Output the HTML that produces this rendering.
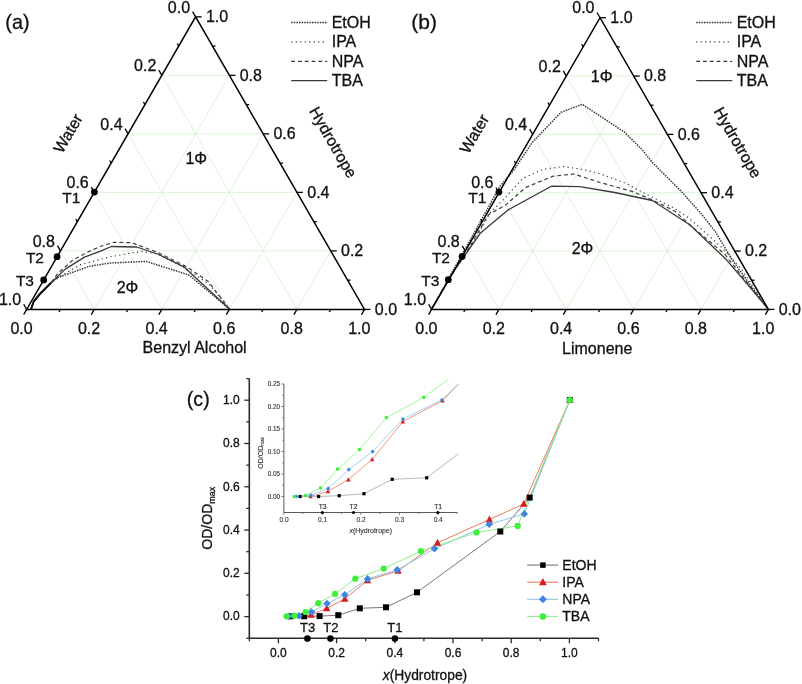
<!DOCTYPE html><html><head><meta charset="utf-8"><style>html,body{margin:0;padding:0;background:#fff;}svg{display:block;will-change:transform;}</style></head><body><svg width="802" height="684" viewBox="0 0 802 684" font-family='"Liberation Sans", sans-serif'>
<rect width="802" height="684" fill="#fff"/>
<line x1="60.48" y1="250.89" x2="330.72" y2="250.89" stroke="#d3f2cf" stroke-width="0.85" />
<line x1="94.26" y1="309.4" x2="229.38" y2="75.37" stroke="#d3f2cf" stroke-width="0.85" />
<line x1="296.94" y1="309.4" x2="161.82" y2="75.37" stroke="#d3f2cf" stroke-width="0.85" />
<line x1="94.26" y1="192.38" x2="296.94" y2="192.38" stroke="#d3f2cf" stroke-width="0.85" />
<line x1="161.82" y1="309.4" x2="263.16" y2="133.87" stroke="#d3f2cf" stroke-width="0.85" />
<line x1="229.38" y1="309.4" x2="128.04" y2="133.87" stroke="#d3f2cf" stroke-width="0.85" />
<line x1="128.04" y1="133.87" x2="263.16" y2="133.87" stroke="#d3f2cf" stroke-width="0.85" />
<line x1="229.38" y1="309.4" x2="296.94" y2="192.38" stroke="#d3f2cf" stroke-width="0.85" />
<line x1="161.82" y1="309.4" x2="94.26" y2="192.38" stroke="#d3f2cf" stroke-width="0.85" />
<line x1="161.82" y1="75.37" x2="229.38" y2="75.37" stroke="#d3f2cf" stroke-width="0.85" />
<line x1="296.94" y1="309.4" x2="330.72" y2="250.89" stroke="#d3f2cf" stroke-width="0.85" />
<line x1="94.26" y1="309.4" x2="60.48" y2="250.89" stroke="#d3f2cf" stroke-width="0.85" />
<polyline points="31.1,309 33.7,301.5 40.3,293.5 46.1,287.7 51,282.8 65,269.4 84.4,257.1 100,251.4 111.3,246.5 136.6,247 157.6,254 183.8,266.8 229.4,309" fill="none" stroke="#3a3a3a" stroke-width="1.3" stroke-linejoin="round" />
<polyline points="31.1,309 33.7,301.5 40.3,293.5 46.1,287.7 51,282.8 57.5,273.9 72.4,260.4 87.4,252.2 100,246.5 114,242.3 131.4,242.7 157.6,252.3 187.3,267.1 208.2,281.5 229.4,309" fill="none" stroke="#3a3a3a" stroke-width="1.2" stroke-linejoin="round" stroke-dasharray="3.8,3"/>
<polyline points="31.1,309 33.7,301.5 40.3,293.5 46.1,287.7 51,282.8 61.2,275.8 79.9,264.9 110,256.8 141.9,251.3 157.6,254 185.5,268 210,285 229.4,309" fill="none" stroke="#3a3a3a" stroke-width="1.2" stroke-linejoin="round" stroke-dasharray="1.2,3.3"/>
<polyline points="31.1,309 33.7,301.5 40.3,293.5 46.1,287.7 51,282.8 57.5,277.6 72.4,272.4 88.9,266.4 110,263 146.2,261.4 189,275 229.4,309" fill="none" stroke="#333" stroke-width="1.45" stroke-linejoin="round" stroke-dasharray="1.5,1.1"/>
<polyline points="31.1,309 33.7,301.5 40.3,293.5 46.1,287.7 51,282.8" fill="none" stroke="#111" stroke-width="2" stroke-linejoin="round" />
<line x1="26.7" y1="309.4" x2="23.7" y2="314.6" stroke="#000" stroke-width="1.3" />
<line x1="364.5" y1="309.4" x2="370.5" y2="309.4" stroke="#000" stroke-width="1.3" />
<line x1="195.6" y1="16.86" x2="192.6" y2="11.66" stroke="#000" stroke-width="1.3" />
<line x1="60.48" y1="309.4" x2="58.98" y2="312" stroke="#000" stroke-width="1.3" />
<line x1="347.61" y1="280.15" x2="350.61" y2="280.15" stroke="#000" stroke-width="1.3" />
<line x1="178.71" y1="46.11" x2="177.21" y2="43.51" stroke="#000" stroke-width="1.3" />
<line x1="94.26" y1="309.4" x2="91.26" y2="314.6" stroke="#000" stroke-width="1.3" />
<line x1="330.72" y1="250.89" x2="336.72" y2="250.89" stroke="#000" stroke-width="1.3" />
<line x1="161.82" y1="75.37" x2="158.82" y2="70.17" stroke="#000" stroke-width="1.3" />
<line x1="128.04" y1="309.4" x2="126.54" y2="312" stroke="#000" stroke-width="1.3" />
<line x1="313.83" y1="221.64" x2="316.83" y2="221.64" stroke="#000" stroke-width="1.3" />
<line x1="144.93" y1="104.62" x2="143.43" y2="102.02" stroke="#000" stroke-width="1.3" />
<line x1="161.82" y1="309.4" x2="158.82" y2="314.6" stroke="#000" stroke-width="1.3" />
<line x1="296.94" y1="192.38" x2="302.94" y2="192.38" stroke="#000" stroke-width="1.3" />
<line x1="128.04" y1="133.87" x2="125.04" y2="128.68" stroke="#000" stroke-width="1.3" />
<line x1="195.6" y1="309.4" x2="194.1" y2="312" stroke="#000" stroke-width="1.3" />
<line x1="280.05" y1="163.13" x2="283.05" y2="163.13" stroke="#000" stroke-width="1.3" />
<line x1="111.15" y1="163.13" x2="109.65" y2="160.53" stroke="#000" stroke-width="1.3" />
<line x1="229.38" y1="309.4" x2="226.38" y2="314.6" stroke="#000" stroke-width="1.3" />
<line x1="263.16" y1="133.87" x2="269.16" y2="133.87" stroke="#000" stroke-width="1.3" />
<line x1="94.26" y1="192.38" x2="91.26" y2="187.19" stroke="#000" stroke-width="1.3" />
<line x1="263.16" y1="309.4" x2="261.66" y2="312" stroke="#000" stroke-width="1.3" />
<line x1="246.27" y1="104.62" x2="249.27" y2="104.62" stroke="#000" stroke-width="1.3" />
<line x1="77.37" y1="221.64" x2="75.87" y2="219.04" stroke="#000" stroke-width="1.3" />
<line x1="296.94" y1="309.4" x2="293.94" y2="314.6" stroke="#000" stroke-width="1.3" />
<line x1="229.38" y1="75.37" x2="235.38" y2="75.37" stroke="#000" stroke-width="1.3" />
<line x1="60.48" y1="250.89" x2="57.48" y2="245.7" stroke="#000" stroke-width="1.3" />
<line x1="330.72" y1="309.4" x2="329.22" y2="312" stroke="#000" stroke-width="1.3" />
<line x1="212.49" y1="46.11" x2="215.49" y2="46.11" stroke="#000" stroke-width="1.3" />
<line x1="43.59" y1="280.15" x2="42.09" y2="277.55" stroke="#000" stroke-width="1.3" />
<line x1="364.5" y1="309.4" x2="361.5" y2="314.6" stroke="#000" stroke-width="1.3" />
<line x1="195.6" y1="16.86" x2="201.6" y2="16.86" stroke="#000" stroke-width="1.3" />
<line x1="26.7" y1="309.4" x2="23.7" y2="304.2" stroke="#000" stroke-width="1.3" />
<polygon points="26.7,309.4 364.5,309.4 195.6,16.86" fill="none" stroke="#000" stroke-width="1.5" stroke-linejoin="miter"/>
<text x="21.5" y="333.5" font-size="16" text-anchor="middle" fill="#111"  stroke="#111" stroke-width="0.3">0.0</text>
<text x="374.8" y="314.7" font-size="16" text-anchor="start" fill="#111"  stroke="#111" stroke-width="0.3">0.0</text>
<text x="190.1" y="12.56" font-size="16" text-anchor="end" fill="#111"  stroke="#111" stroke-width="0.3">0.0</text>
<text x="89.06" y="333.5" font-size="16" text-anchor="middle" fill="#111"  stroke="#111" stroke-width="0.3">0.2</text>
<text x="341.02" y="256.19" font-size="16" text-anchor="start" fill="#111"  stroke="#111" stroke-width="0.3">0.2</text>
<text x="156.32" y="71.07" font-size="16" text-anchor="end" fill="#111"  stroke="#111" stroke-width="0.3">0.2</text>
<text x="156.62" y="333.5" font-size="16" text-anchor="middle" fill="#111"  stroke="#111" stroke-width="0.3">0.4</text>
<text x="307.24" y="197.68" font-size="16" text-anchor="start" fill="#111"  stroke="#111" stroke-width="0.3">0.4</text>
<text x="122.54" y="129.57" font-size="16" text-anchor="end" fill="#111"  stroke="#111" stroke-width="0.3">0.4</text>
<text x="224.18" y="333.5" font-size="16" text-anchor="middle" fill="#111"  stroke="#111" stroke-width="0.3">0.6</text>
<text x="273.46" y="139.17" font-size="16" text-anchor="start" fill="#111"  stroke="#111" stroke-width="0.3">0.6</text>
<text x="88.76" y="188.08" font-size="16" text-anchor="end" fill="#111"  stroke="#111" stroke-width="0.3">0.6</text>
<text x="291.74" y="333.5" font-size="16" text-anchor="middle" fill="#111"  stroke="#111" stroke-width="0.3">0.8</text>
<text x="239.68" y="80.67" font-size="16" text-anchor="start" fill="#111"  stroke="#111" stroke-width="0.3">0.8</text>
<text x="54.98" y="246.59" font-size="16" text-anchor="end" fill="#111"  stroke="#111" stroke-width="0.3">0.8</text>
<text x="359.3" y="333.5" font-size="16" text-anchor="middle" fill="#111"  stroke="#111" stroke-width="0.3">1.0</text>
<text x="205.9" y="22.16" font-size="16" text-anchor="start" fill="#111"  stroke="#111" stroke-width="0.3">1.0</text>
<text x="21.2" y="305.1" font-size="16" text-anchor="end" fill="#111"  stroke="#111" stroke-width="0.3">1.0</text>
<circle cx="94.4" cy="192.1" r="3.4" fill="#000"/>
<circle cx="57.1" cy="256.7" r="3.4" fill="#000"/>
<circle cx="43.7" cy="279.9" r="3.4" fill="#000"/>
<text x="80.4" y="202.9" font-size="15.5" text-anchor="end" fill="#111"  stroke="#111" stroke-width="0.3">T1</text>
<text x="44" y="262.7" font-size="15.5" text-anchor="end" fill="#111"  stroke="#111" stroke-width="0.3">T2</text>
<text x="34" y="285.6" font-size="15.5" text-anchor="end" fill="#111"  stroke="#111" stroke-width="0.3">T3</text>
<text x="127.5" y="293" font-size="16" text-anchor="middle" fill="#111"  stroke="#111" stroke-width="0.3">2Φ</text>
<text x="196.3" y="163.5" font-size="16" text-anchor="middle" fill="#111"  stroke="#111" stroke-width="0.3">1Φ</text>
<line x1="465.28" y1="251.06" x2="734.72" y2="251.06" stroke="#d3f2cf" stroke-width="0.85" />
<line x1="498.96" y1="309.4" x2="633.68" y2="76.06" stroke="#d3f2cf" stroke-width="0.85" />
<line x1="701.04" y1="309.4" x2="566.32" y2="76.06" stroke="#d3f2cf" stroke-width="0.85" />
<line x1="498.96" y1="192.73" x2="701.04" y2="192.73" stroke="#d3f2cf" stroke-width="0.85" />
<line x1="566.32" y1="309.4" x2="667.36" y2="134.39" stroke="#d3f2cf" stroke-width="0.85" />
<line x1="633.68" y1="309.4" x2="532.64" y2="134.39" stroke="#d3f2cf" stroke-width="0.85" />
<line x1="532.64" y1="134.39" x2="667.36" y2="134.39" stroke="#d3f2cf" stroke-width="0.85" />
<line x1="633.68" y1="309.4" x2="701.04" y2="192.73" stroke="#d3f2cf" stroke-width="0.85" />
<line x1="566.32" y1="309.4" x2="498.96" y2="192.73" stroke="#d3f2cf" stroke-width="0.85" />
<line x1="566.32" y1="76.06" x2="633.68" y2="76.06" stroke="#d3f2cf" stroke-width="0.85" />
<line x1="701.04" y1="309.4" x2="734.72" y2="251.06" stroke="#d3f2cf" stroke-width="0.85" />
<line x1="498.96" y1="309.4" x2="465.28" y2="251.06" stroke="#d3f2cf" stroke-width="0.85" />
<polyline points="431.6,309 447.5,282 455,269.5 464,256.5 465.3,254.7 480.1,233.6 490,224.9 508,209.9 551.4,186.2 579.8,186.7 614.7,192.5 652.4,200.5 689.8,224.8 726.5,259.8 749.4,286.5 768.4,309.4" fill="none" stroke="#3a3a3a" stroke-width="1.3" stroke-linejoin="round" />
<polyline points="431.6,309 447.5,282 455,269.5 464,256.5 488.6,214.5 505,205.4 525.9,187.4 552.9,176.2 573.8,174 600,182.5 631.2,191.1 652.4,199.9 674.8,211.1 688.5,223.7 724.6,254.1 768.4,309.4" fill="none" stroke="#3a3a3a" stroke-width="1.2" stroke-linejoin="round" stroke-dasharray="3.8,3"/>
<polyline points="431.6,309 447.5,282 455,269.5 464,256.5 475,240 490,212.9 505,197.9 522.9,178.4 542.4,169.5 563.4,166.5 582.8,169.5 600,173.7 625,183 652.4,197.4 674.8,208.6 690,219 720.8,246.5 741.7,269.4 768.4,309.4" fill="none" stroke="#3a3a3a" stroke-width="1.2" stroke-linejoin="round" stroke-dasharray="1.2,3.3"/>
<polyline points="431.6,309 500.2,186 514,170 532.4,142.2 561.1,112.3 582.3,104.3 624.7,132.3 642.4,150 652.4,162.5 681,191.1 700,212.3 715.1,231.3 732.2,259.8 750,284.5 768.4,309.4" fill="none" stroke="#333" stroke-width="1.45" stroke-linejoin="round" stroke-dasharray="1.5,1.1"/>
<line x1="431.6" y1="309.4" x2="428.6" y2="314.6" stroke="#000" stroke-width="1.3" />
<line x1="768.4" y1="309.4" x2="774.4" y2="309.4" stroke="#000" stroke-width="1.3" />
<line x1="600" y1="17.72" x2="597" y2="12.53" stroke="#000" stroke-width="1.3" />
<line x1="465.28" y1="309.4" x2="463.78" y2="312" stroke="#000" stroke-width="1.3" />
<line x1="751.56" y1="280.23" x2="754.56" y2="280.23" stroke="#000" stroke-width="1.3" />
<line x1="583.16" y1="46.89" x2="581.66" y2="44.29" stroke="#000" stroke-width="1.3" />
<line x1="498.96" y1="309.4" x2="495.96" y2="314.6" stroke="#000" stroke-width="1.3" />
<line x1="734.72" y1="251.06" x2="740.72" y2="251.06" stroke="#000" stroke-width="1.3" />
<line x1="566.32" y1="76.06" x2="563.32" y2="70.86" stroke="#000" stroke-width="1.3" />
<line x1="532.64" y1="309.4" x2="531.14" y2="312" stroke="#000" stroke-width="1.3" />
<line x1="717.88" y1="221.9" x2="720.88" y2="221.9" stroke="#000" stroke-width="1.3" />
<line x1="549.48" y1="105.23" x2="547.98" y2="102.63" stroke="#000" stroke-width="1.3" />
<line x1="566.32" y1="309.4" x2="563.32" y2="314.6" stroke="#000" stroke-width="1.3" />
<line x1="701.04" y1="192.73" x2="707.04" y2="192.73" stroke="#000" stroke-width="1.3" />
<line x1="532.64" y1="134.39" x2="529.64" y2="129.2" stroke="#000" stroke-width="1.3" />
<line x1="600" y1="309.4" x2="598.5" y2="312" stroke="#000" stroke-width="1.3" />
<line x1="684.2" y1="163.56" x2="687.2" y2="163.56" stroke="#000" stroke-width="1.3" />
<line x1="515.8" y1="163.56" x2="514.3" y2="160.96" stroke="#000" stroke-width="1.3" />
<line x1="633.68" y1="309.4" x2="630.68" y2="314.6" stroke="#000" stroke-width="1.3" />
<line x1="667.36" y1="134.39" x2="673.36" y2="134.39" stroke="#000" stroke-width="1.3" />
<line x1="498.96" y1="192.73" x2="495.96" y2="187.53" stroke="#000" stroke-width="1.3" />
<line x1="667.36" y1="309.4" x2="665.86" y2="312" stroke="#000" stroke-width="1.3" />
<line x1="650.52" y1="105.23" x2="653.52" y2="105.23" stroke="#000" stroke-width="1.3" />
<line x1="482.12" y1="221.9" x2="480.62" y2="219.3" stroke="#000" stroke-width="1.3" />
<line x1="701.04" y1="309.4" x2="698.04" y2="314.6" stroke="#000" stroke-width="1.3" />
<line x1="633.68" y1="76.06" x2="639.68" y2="76.06" stroke="#000" stroke-width="1.3" />
<line x1="465.28" y1="251.06" x2="462.28" y2="245.87" stroke="#000" stroke-width="1.3" />
<line x1="734.72" y1="309.4" x2="733.22" y2="312" stroke="#000" stroke-width="1.3" />
<line x1="616.84" y1="46.89" x2="619.84" y2="46.89" stroke="#000" stroke-width="1.3" />
<line x1="448.44" y1="280.23" x2="446.94" y2="277.63" stroke="#000" stroke-width="1.3" />
<line x1="768.4" y1="309.4" x2="765.4" y2="314.6" stroke="#000" stroke-width="1.3" />
<line x1="600" y1="17.72" x2="606" y2="17.72" stroke="#000" stroke-width="1.3" />
<line x1="431.6" y1="309.4" x2="428.6" y2="304.2" stroke="#000" stroke-width="1.3" />
<polygon points="431.6,309.4 768.4,309.4 600,17.72" fill="none" stroke="#000" stroke-width="1.5" stroke-linejoin="miter"/>
<text x="426.4" y="333.5" font-size="16" text-anchor="middle" fill="#111"  stroke="#111" stroke-width="0.3">0.0</text>
<text x="778.7" y="314.7" font-size="16" text-anchor="start" fill="#111"  stroke="#111" stroke-width="0.3">0.0</text>
<text x="594.5" y="13.42" font-size="16" text-anchor="end" fill="#111"  stroke="#111" stroke-width="0.3">0.0</text>
<text x="493.76" y="333.5" font-size="16" text-anchor="middle" fill="#111"  stroke="#111" stroke-width="0.3">0.2</text>
<text x="745.02" y="256.36" font-size="16" text-anchor="start" fill="#111"  stroke="#111" stroke-width="0.3">0.2</text>
<text x="560.82" y="71.76" font-size="16" text-anchor="end" fill="#111"  stroke="#111" stroke-width="0.3">0.2</text>
<text x="561.12" y="333.5" font-size="16" text-anchor="middle" fill="#111"  stroke="#111" stroke-width="0.3">0.4</text>
<text x="711.34" y="198.03" font-size="16" text-anchor="start" fill="#111"  stroke="#111" stroke-width="0.3">0.4</text>
<text x="527.14" y="130.09" font-size="16" text-anchor="end" fill="#111"  stroke="#111" stroke-width="0.3">0.4</text>
<text x="628.48" y="333.5" font-size="16" text-anchor="middle" fill="#111"  stroke="#111" stroke-width="0.3">0.6</text>
<text x="677.66" y="139.69" font-size="16" text-anchor="start" fill="#111"  stroke="#111" stroke-width="0.3">0.6</text>
<text x="493.46" y="188.43" font-size="16" text-anchor="end" fill="#111"  stroke="#111" stroke-width="0.3">0.6</text>
<text x="695.84" y="333.5" font-size="16" text-anchor="middle" fill="#111"  stroke="#111" stroke-width="0.3">0.8</text>
<text x="643.98" y="81.36" font-size="16" text-anchor="start" fill="#111"  stroke="#111" stroke-width="0.3">0.8</text>
<text x="459.78" y="246.76" font-size="16" text-anchor="end" fill="#111"  stroke="#111" stroke-width="0.3">0.8</text>
<text x="763.2" y="333.5" font-size="16" text-anchor="middle" fill="#111"  stroke="#111" stroke-width="0.3">1.0</text>
<text x="610.3" y="23.02" font-size="16" text-anchor="start" fill="#111"  stroke="#111" stroke-width="0.3">1.0</text>
<text x="426.1" y="305.1" font-size="16" text-anchor="end" fill="#111"  stroke="#111" stroke-width="0.3">1.0</text>
<circle cx="498.9" cy="192.1" r="3.4" fill="#000"/>
<circle cx="462.1" cy="256.4" r="3.4" fill="#000"/>
<circle cx="448.3" cy="279.7" r="3.4" fill="#000"/>
<text x="486.4" y="202.8" font-size="15.5" text-anchor="end" fill="#111"  stroke="#111" stroke-width="0.3">T1</text>
<text x="450" y="263.2" font-size="15.5" text-anchor="end" fill="#111"  stroke="#111" stroke-width="0.3">T2</text>
<text x="439.4" y="285.5" font-size="15.5" text-anchor="end" fill="#111"  stroke="#111" stroke-width="0.3">T3</text>
<text x="582.5" y="254.3" font-size="16" text-anchor="middle" fill="#111"  stroke="#111" stroke-width="0.3">2Φ</text>
<text x="601.7" y="82.4" font-size="16" text-anchor="middle" fill="#111"  stroke="#111" stroke-width="0.3">1Φ</text>
<text x="5.3" y="29" font-size="21" text-anchor="start" fill="#111" textLength="24.3" lengthAdjust="spacingAndGlyphs" stroke="#111" stroke-width="0.3">(a)</text>
<text x="411.3" y="29" font-size="21" text-anchor="start" fill="#111"  stroke="#111" stroke-width="0.3">(b)</text>
<text x="194.6" y="353" font-size="16" text-anchor="middle" fill="#111"  stroke="#111" stroke-width="0.3">Benzyl Alcohol</text>
<text x="597.2" y="353.5" font-size="16" text-anchor="middle" fill="#111"  stroke="#111" stroke-width="0.3">Limonene</text>
<text x="68" y="133.3" font-size="16" text-anchor="middle" dominant-baseline="central" fill="#111" stroke="#111" stroke-width="0.3" transform="rotate(-60 68 133.3)">Water</text>
<text x="333.2" y="142.3" font-size="16" text-anchor="middle" dominant-baseline="central" fill="#111" stroke="#111" stroke-width="0.3" transform="rotate(60 333.2 142.3)">Hydrotrope</text>
<text x="474.3" y="133.8" font-size="16" text-anchor="middle" dominant-baseline="central" fill="#111" stroke="#111" stroke-width="0.3" transform="rotate(-60 474.3 133.8)">Water</text>
<text x="737.8" y="142.5" font-size="16" text-anchor="middle" dominant-baseline="central" fill="#111" stroke="#111" stroke-width="0.3" transform="rotate(60 737.8 142.5)">Hydrotrope</text>
<line x1="291.2" y1="22.5" x2="327.2" y2="22.5" stroke="#333" stroke-width="1.45" stroke-dasharray="1.5,1.1"/>
<text x="331.7" y="27.9" font-size="16" text-anchor="start" fill="#111"  stroke="#111" stroke-width="0.3">EtOH</text>
<line x1="291.2" y1="41.9" x2="327.2" y2="41.9" stroke="#3a3a3a" stroke-width="1.2" stroke-dasharray="1.2,3.3"/>
<text x="331.7" y="47.3" font-size="16" text-anchor="start" fill="#111"  stroke="#111" stroke-width="0.3">IPA</text>
<line x1="291.2" y1="61.3" x2="327.2" y2="61.3" stroke="#3a3a3a" stroke-width="1.2" stroke-dasharray="3.8,3"/>
<text x="331.7" y="66.7" font-size="16" text-anchor="start" fill="#111"  stroke="#111" stroke-width="0.3">NPA</text>
<line x1="291.2" y1="80.7" x2="327.2" y2="80.7" stroke="#3a3a3a" stroke-width="1.3" />
<text x="331.7" y="86.1" font-size="16" text-anchor="start" fill="#111"  stroke="#111" stroke-width="0.3">TBA</text>
<line x1="696.2" y1="22.5" x2="732.2" y2="22.5" stroke="#333" stroke-width="1.45" stroke-dasharray="1.5,1.1"/>
<text x="736.7" y="27.9" font-size="16" text-anchor="start" fill="#111"  stroke="#111" stroke-width="0.3">EtOH</text>
<line x1="696.2" y1="41.9" x2="732.2" y2="41.9" stroke="#3a3a3a" stroke-width="1.2" stroke-dasharray="1.2,3.3"/>
<text x="736.7" y="47.3" font-size="16" text-anchor="start" fill="#111"  stroke="#111" stroke-width="0.3">IPA</text>
<line x1="696.2" y1="61.3" x2="732.2" y2="61.3" stroke="#3a3a3a" stroke-width="1.2" stroke-dasharray="3.8,3"/>
<text x="736.7" y="66.7" font-size="16" text-anchor="start" fill="#111"  stroke="#111" stroke-width="0.3">NPA</text>
<line x1="696.2" y1="80.7" x2="732.2" y2="80.7" stroke="#3a3a3a" stroke-width="1.3" />
<text x="736.7" y="86.1" font-size="16" text-anchor="start" fill="#111"  stroke="#111" stroke-width="0.3">TBA</text>
<line x1="249.3" y1="638.24" x2="598.5" y2="638.24" stroke="#2a2a2a" stroke-width="1.6" />
<line x1="249.3" y1="638.24" x2="249.3" y2="378.56" stroke="#2a2a2a" stroke-width="1.6" />
<line x1="249.3" y1="638.24" x2="249.3" y2="641.24" stroke="#2a2a2a" stroke-width="1.3" />
<line x1="249.3" y1="638.24" x2="246.3" y2="638.24" stroke="#2a2a2a" stroke-width="1.3" />
<line x1="278.4" y1="638.24" x2="278.4" y2="643.24" stroke="#2a2a2a" stroke-width="1.3" />
<line x1="249.3" y1="616.6" x2="244.3" y2="616.6" stroke="#2a2a2a" stroke-width="1.3" />
<line x1="307.5" y1="638.24" x2="307.5" y2="641.24" stroke="#2a2a2a" stroke-width="1.3" />
<line x1="249.3" y1="594.96" x2="246.3" y2="594.96" stroke="#2a2a2a" stroke-width="1.3" />
<line x1="336.6" y1="638.24" x2="336.6" y2="643.24" stroke="#2a2a2a" stroke-width="1.3" />
<line x1="249.3" y1="573.32" x2="244.3" y2="573.32" stroke="#2a2a2a" stroke-width="1.3" />
<line x1="365.7" y1="638.24" x2="365.7" y2="641.24" stroke="#2a2a2a" stroke-width="1.3" />
<line x1="249.3" y1="551.68" x2="246.3" y2="551.68" stroke="#2a2a2a" stroke-width="1.3" />
<line x1="394.8" y1="638.24" x2="394.8" y2="643.24" stroke="#2a2a2a" stroke-width="1.3" />
<line x1="249.3" y1="530.04" x2="244.3" y2="530.04" stroke="#2a2a2a" stroke-width="1.3" />
<line x1="423.9" y1="638.24" x2="423.9" y2="641.24" stroke="#2a2a2a" stroke-width="1.3" />
<line x1="249.3" y1="508.4" x2="246.3" y2="508.4" stroke="#2a2a2a" stroke-width="1.3" />
<line x1="453" y1="638.24" x2="453" y2="643.24" stroke="#2a2a2a" stroke-width="1.3" />
<line x1="249.3" y1="486.76" x2="244.3" y2="486.76" stroke="#2a2a2a" stroke-width="1.3" />
<line x1="482.1" y1="638.24" x2="482.1" y2="641.24" stroke="#2a2a2a" stroke-width="1.3" />
<line x1="249.3" y1="465.12" x2="246.3" y2="465.12" stroke="#2a2a2a" stroke-width="1.3" />
<line x1="511.2" y1="638.24" x2="511.2" y2="643.24" stroke="#2a2a2a" stroke-width="1.3" />
<line x1="249.3" y1="443.48" x2="244.3" y2="443.48" stroke="#2a2a2a" stroke-width="1.3" />
<line x1="540.3" y1="638.24" x2="540.3" y2="641.24" stroke="#2a2a2a" stroke-width="1.3" />
<line x1="249.3" y1="421.84" x2="246.3" y2="421.84" stroke="#2a2a2a" stroke-width="1.3" />
<line x1="569.4" y1="638.24" x2="569.4" y2="643.24" stroke="#2a2a2a" stroke-width="1.3" />
<line x1="249.3" y1="400.2" x2="244.3" y2="400.2" stroke="#2a2a2a" stroke-width="1.3" />
<line x1="598.5" y1="638.24" x2="598.5" y2="641.24" stroke="#2a2a2a" stroke-width="1.3" />
<line x1="249.3" y1="378.56" x2="246.3" y2="378.56" stroke="#2a2a2a" stroke-width="1.3" />
<text x="278.4" y="656.8" font-size="12" text-anchor="middle" fill="#111"  stroke="#111" stroke-width="0.3">0.0</text>
<text x="239.7" y="620.4" font-size="12" text-anchor="end" fill="#111"  stroke="#111" stroke-width="0.3">0.0</text>
<text x="336.6" y="656.8" font-size="12" text-anchor="middle" fill="#111"  stroke="#111" stroke-width="0.3">0.2</text>
<text x="239.7" y="577.12" font-size="12" text-anchor="end" fill="#111"  stroke="#111" stroke-width="0.3">0.2</text>
<text x="394.8" y="656.8" font-size="12" text-anchor="middle" fill="#111"  stroke="#111" stroke-width="0.3">0.4</text>
<text x="239.7" y="533.84" font-size="12" text-anchor="end" fill="#111"  stroke="#111" stroke-width="0.3">0.4</text>
<text x="453" y="656.8" font-size="12" text-anchor="middle" fill="#111"  stroke="#111" stroke-width="0.3">0.6</text>
<text x="239.7" y="490.56" font-size="12" text-anchor="end" fill="#111"  stroke="#111" stroke-width="0.3">0.6</text>
<text x="511.2" y="656.8" font-size="12" text-anchor="middle" fill="#111"  stroke="#111" stroke-width="0.3">0.8</text>
<text x="239.7" y="447.28" font-size="12" text-anchor="end" fill="#111"  stroke="#111" stroke-width="0.3">0.8</text>
<text x="569.4" y="656.8" font-size="12" text-anchor="middle" fill="#111"  stroke="#111" stroke-width="0.3">1.0</text>
<text x="239.7" y="404" font-size="12" text-anchor="end" fill="#111"  stroke="#111" stroke-width="0.3">1.0</text>
<text x="425" y="679.8" font-size="13.8" text-anchor="middle" fill="#111"  stroke="#111" stroke-width="0.3"><tspan font-style="italic">x</tspan>(Hydrotrope)</text>
<text x="212.5" y="518.2" font-size="14" stroke="#111" stroke-width="0.3" text-anchor="middle" fill="#111" transform="rotate(-90 212.5 518.2)">OD/OD<tspan font-size="9" dy="3">max</tspan></text>
<text x="186.8" y="405.5" font-size="21" text-anchor="start" fill="#111" textLength="22.9" lengthAdjust="spacingAndGlyphs" stroke="#111" stroke-width="0.3">(c)</text>
<polyline points="290.6,616.3 304.2,616.3 319.6,616.1 338.3,615.2 359.8,608.3 386,607.3 417,592.3 500.3,531.5 529.7,497.6 569.9,400" fill="none" stroke="#777777" stroke-width="1" stroke-linejoin="round" />
<polyline points="289.5,616.3 299.5,616.3 311.1,614.8 326.7,608.3 344.8,598.9 367.6,580.2 398.1,570.9 437.5,542.8 489.4,519.5 523.7,503.9 569.9,400" fill="none" stroke="#f07a60" stroke-width="1" stroke-linejoin="round" />
<polyline points="288.7,616.3 299,615.7 311.5,612 327,603.6 344.8,594.8 367.6,578.9 397.2,569.9 434.5,548.8 489.2,524.3 524.3,513.9 569.9,400" fill="none" stroke="#8ec6e6" stroke-width="1" stroke-linejoin="round" />
<polyline points="286.5,616.3 294.3,615.7 305.5,612 318.3,603.2 335.1,593.9 355.3,578.7 383.7,568.6 420.9,551.2 476.4,532.5 517.7,525.9 569.9,400" fill="none" stroke="#8cf088" stroke-width="1" stroke-linejoin="round" />
<rect x="287.6" y="613.3" width="6" height="6" fill="#000"/>
<rect x="301.2" y="613.3" width="6" height="6" fill="#000"/>
<rect x="316.6" y="613.1" width="6" height="6" fill="#000"/>
<rect x="335.3" y="612.2" width="6" height="6" fill="#000"/>
<rect x="356.8" y="605.3" width="6" height="6" fill="#000"/>
<rect x="383" y="604.3" width="6" height="6" fill="#000"/>
<rect x="414" y="589.3" width="6" height="6" fill="#000"/>
<rect x="497.3" y="528.5" width="6" height="6" fill="#000"/>
<rect x="526.7" y="494.6" width="6" height="6" fill="#000"/>
<rect x="566.9" y="397" width="6" height="6" fill="#000"/>
<polygon points="311.1,610.84 314.73,617.77 307.47,617.77" fill="#d81a1a"/>
<polygon points="326.7,604.34 330.33,611.27 323.07,611.27" fill="#d81a1a"/>
<polygon points="344.8,594.94 348.43,601.87 341.17,601.87" fill="#d81a1a"/>
<polygon points="367.6,576.24 371.23,583.17 363.97,583.17" fill="#d81a1a"/>
<polygon points="398.1,566.94 401.73,573.87 394.47,573.87" fill="#d81a1a"/>
<polygon points="437.5,538.84 441.13,545.77 433.87,545.77" fill="#d81a1a"/>
<polygon points="489.4,515.54 493.03,522.47 485.77,522.47" fill="#d81a1a"/>
<polygon points="523.7,499.94 527.33,506.87 520.07,506.87" fill="#d81a1a"/>
<polygon points="569.9,396.04 573.53,402.97 566.27,402.97" fill="#d81a1a"/>
<polygon points="288.7,612.5 292.5,616.3 288.7,620.1 284.9,616.3" fill="#3f86e0"/>
<polygon points="299,611.9 302.8,615.7 299,619.5 295.2,615.7" fill="#3f86e0"/>
<polygon points="311.5,608.2 315.3,612 311.5,615.8 307.7,612" fill="#3f86e0"/>
<polygon points="327,599.8 330.8,603.6 327,607.4 323.2,603.6" fill="#3f86e0"/>
<polygon points="344.8,591 348.6,594.8 344.8,598.6 341,594.8" fill="#3f86e0"/>
<polygon points="367.6,575.1 371.4,578.9 367.6,582.7 363.8,578.9" fill="#3f86e0"/>
<polygon points="397.2,566.1 401,569.9 397.2,573.7 393.4,569.9" fill="#3f86e0"/>
<polygon points="434.5,545 438.3,548.8 434.5,552.6 430.7,548.8" fill="#3f86e0"/>
<polygon points="489.2,520.5 493,524.3 489.2,528.1 485.4,524.3" fill="#3f86e0"/>
<polygon points="524.3,510.1 528.1,513.9 524.3,517.7 520.5,513.9" fill="#3f86e0"/>
<polygon points="569.9,396.2 573.7,400 569.9,403.8 566.1,400" fill="#3f86e0"/>
<circle cx="286.5" cy="616.3" r="3.1" fill="#3ff03a"/>
<circle cx="294.3" cy="615.7" r="3.1" fill="#3ff03a"/>
<circle cx="305.5" cy="612" r="3.1" fill="#3ff03a"/>
<circle cx="318.3" cy="603.2" r="3.1" fill="#3ff03a"/>
<circle cx="335.1" cy="593.9" r="3.1" fill="#3ff03a"/>
<circle cx="355.3" cy="578.7" r="3.1" fill="#3ff03a"/>
<circle cx="383.7" cy="568.6" r="3.1" fill="#3ff03a"/>
<circle cx="420.9" cy="551.2" r="3.1" fill="#3ff03a"/>
<circle cx="476.4" cy="532.5" r="3.1" fill="#3ff03a"/>
<circle cx="517.7" cy="525.9" r="3.1" fill="#3ff03a"/>
<circle cx="569.9" cy="400" r="3.1" fill="#3ff03a"/>
<circle cx="307.4" cy="638.6" r="3.3" fill="#000"/>
<circle cx="330.4" cy="638.6" r="3.3" fill="#000"/>
<circle cx="394.9" cy="638.6" r="3.3" fill="#000"/>
<text x="307.7" y="632.4" font-size="13" text-anchor="middle" fill="#111"  stroke="#111" stroke-width="0.3">T3</text>
<text x="330.9" y="632.4" font-size="13" text-anchor="middle" fill="#111"  stroke="#111" stroke-width="0.3">T2</text>
<text x="394.9" y="632.4" font-size="13" text-anchor="middle" fill="#111"  stroke="#111" stroke-width="0.3">T1</text>
<line x1="527.2" y1="565.1" x2="558.2" y2="565.1" stroke="#777777" stroke-width="1.1" />
<rect x="540.15" y="562.35" width="5.5" height="5.5" fill="#000"/>
<text x="562.3" y="570" font-size="14" text-anchor="start" fill="#111"  stroke="#111" stroke-width="0.3">EtOH</text>
<line x1="527.2" y1="582.2" x2="558.2" y2="582.2" stroke="#f07a60" stroke-width="1.1" />
<polygon points="542.9,578 546.75,585.35 539.05,585.35" fill="#d81a1a"/>
<text x="562.3" y="587.1" font-size="14" text-anchor="start" fill="#111"  stroke="#111" stroke-width="0.3">IPA</text>
<line x1="527.2" y1="599.3" x2="558.2" y2="599.3" stroke="#8ec6e6" stroke-width="1.1" />
<polygon points="542.9,595.3 546.9,599.3 542.9,603.3 538.9,599.3" fill="#3f86e0"/>
<text x="562.3" y="604.2" font-size="14" text-anchor="start" fill="#111"  stroke="#111" stroke-width="0.3">NPA</text>
<line x1="527.2" y1="616.4" x2="558.2" y2="616.4" stroke="#8cf088" stroke-width="1.1" />
<circle cx="542.9" cy="616.4" r="3.25" fill="#3ff03a"/>
<text x="562.3" y="621.3" font-size="14" text-anchor="start" fill="#111"  stroke="#111" stroke-width="0.3">TBA</text>
<line x1="283.9" y1="512.5" x2="457.19" y2="512.5" stroke="#5a5a5a" stroke-width="1" />
<line x1="283.9" y1="512.5" x2="283.9" y2="384" stroke="#5a5a5a" stroke-width="1" />
<line x1="283.8" y1="512.5" x2="283.8" y2="515" stroke="#5a5a5a" stroke-width="0.8" />
<line x1="303.06" y1="512.5" x2="303.06" y2="514" stroke="#5a5a5a" stroke-width="0.8" />
<line x1="322.33" y1="512.5" x2="322.33" y2="515" stroke="#5a5a5a" stroke-width="0.8" />
<line x1="341.6" y1="512.5" x2="341.6" y2="514" stroke="#5a5a5a" stroke-width="0.8" />
<line x1="360.86" y1="512.5" x2="360.86" y2="515" stroke="#5a5a5a" stroke-width="0.8" />
<line x1="380.12" y1="512.5" x2="380.12" y2="514" stroke="#5a5a5a" stroke-width="0.8" />
<line x1="399.39" y1="512.5" x2="399.39" y2="515" stroke="#5a5a5a" stroke-width="0.8" />
<line x1="418.66" y1="512.5" x2="418.66" y2="514" stroke="#5a5a5a" stroke-width="0.8" />
<line x1="437.92" y1="512.5" x2="437.92" y2="515" stroke="#5a5a5a" stroke-width="0.8" />
<line x1="457.19" y1="512.5" x2="457.19" y2="514" stroke="#5a5a5a" stroke-width="0.8" />
<line x1="283.9" y1="496.5" x2="281.4" y2="496.5" stroke="#5a5a5a" stroke-width="0.8" />
<line x1="283.9" y1="485.25" x2="282.4" y2="485.25" stroke="#5a5a5a" stroke-width="0.8" />
<text x="280.2" y="498.7" font-size="6.4" text-anchor="end" fill="#333"  stroke="#333" stroke-width="0.12">0.00</text>
<line x1="283.9" y1="474" x2="281.4" y2="474" stroke="#5a5a5a" stroke-width="0.8" />
<line x1="283.9" y1="462.75" x2="282.4" y2="462.75" stroke="#5a5a5a" stroke-width="0.8" />
<text x="280.2" y="476.2" font-size="6.4" text-anchor="end" fill="#333"  stroke="#333" stroke-width="0.12">0.05</text>
<line x1="283.9" y1="451.5" x2="281.4" y2="451.5" stroke="#5a5a5a" stroke-width="0.8" />
<line x1="283.9" y1="440.25" x2="282.4" y2="440.25" stroke="#5a5a5a" stroke-width="0.8" />
<text x="280.2" y="453.7" font-size="6.4" text-anchor="end" fill="#333"  stroke="#333" stroke-width="0.12">0.10</text>
<line x1="283.9" y1="429" x2="281.4" y2="429" stroke="#5a5a5a" stroke-width="0.8" />
<line x1="283.9" y1="417.75" x2="282.4" y2="417.75" stroke="#5a5a5a" stroke-width="0.8" />
<text x="280.2" y="431.2" font-size="6.4" text-anchor="end" fill="#333"  stroke="#333" stroke-width="0.12">0.15</text>
<line x1="283.9" y1="406.5" x2="281.4" y2="406.5" stroke="#5a5a5a" stroke-width="0.8" />
<line x1="283.9" y1="395.25" x2="282.4" y2="395.25" stroke="#5a5a5a" stroke-width="0.8" />
<text x="280.2" y="408.7" font-size="6.4" text-anchor="end" fill="#333"  stroke="#333" stroke-width="0.12">0.20</text>
<line x1="283.9" y1="384" x2="281.4" y2="384" stroke="#5a5a5a" stroke-width="0.8" />
<text x="280.2" y="386.2" font-size="6.4" text-anchor="end" fill="#333"  stroke="#333" stroke-width="0.12">0.25</text>
<text x="284.1" y="521.6" font-size="6.6" text-anchor="middle" fill="#333"  stroke="#333" stroke-width="0.12">0.0</text>
<text x="322.63" y="521.6" font-size="6.6" text-anchor="middle" fill="#333"  stroke="#333" stroke-width="0.12">0.1</text>
<text x="361.16" y="521.6" font-size="6.6" text-anchor="middle" fill="#333"  stroke="#333" stroke-width="0.12">0.2</text>
<text x="399.69" y="521.6" font-size="6.6" text-anchor="middle" fill="#333"  stroke="#333" stroke-width="0.12">0.3</text>
<text x="438.22" y="521.6" font-size="6.6" text-anchor="middle" fill="#333"  stroke="#333" stroke-width="0.12">0.4</text>
<text x="370.8" y="532.7" font-size="7" text-anchor="middle" fill="#333"  stroke="#333" stroke-width="0.12"><tspan font-style="italic">x</tspan>(Hydrotrope)</text>
<text x="262.5" y="453" font-size="7" text-anchor="middle" fill="#333" stroke="#333" stroke-width="0.12" transform="rotate(-90 262.5 453)">OD/OD<tspan font-size="4.5" dy="1.5">max</tspan></text>
<clipPath id="ic"><rect x="284" y="376" width="175" height="137"/></clipPath>
<g clip-path="url(#ic)">
<polyline points="300.1,496.5 318.6,496.5 339.2,495.7 364,493.7 392.2,479.3 426.7,477.8 458.3,453.8" fill="none" stroke="#989898" stroke-width="0.7" stroke-linejoin="round" />
<polyline points="310.5,496.5 328,491.5 348.3,479.6 372.2,459.4 402.9,421.6 442.5,400.7 458.3,384.2" fill="none" stroke="#f07a60" stroke-width="0.8" stroke-linejoin="round" />
<polyline points="296.2,496.5 310.9,495.3 328.2,488.4 348.8,469.6 372.6,451.6 402.9,419 441.8,400 458.3,384.2" fill="none" stroke="#8ec6e6" stroke-width="0.8" stroke-linejoin="round" />
<polyline points="294.3,496.5 305.5,495.5 320.5,488 337.6,469.1 359.5,449.6 386.4,417.6 423.8,397.4 448.5,379.3" fill="none" stroke="#8cf088" stroke-width="0.8" stroke-linejoin="round" />
</g>
<rect x="298.5" y="494.9" width="3.2" height="3.2" fill="#000"/>
<rect x="317" y="494.9" width="3.2" height="3.2" fill="#000"/>
<rect x="337.6" y="494.1" width="3.2" height="3.2" fill="#000"/>
<rect x="362.4" y="492.1" width="3.2" height="3.2" fill="#000"/>
<rect x="390.6" y="477.7" width="3.2" height="3.2" fill="#000"/>
<rect x="425.1" y="476.2" width="3.2" height="3.2" fill="#000"/>
<polygon points="310.5,494.1 312.7,498.3 308.3,498.3" fill="#d81a1a"/>
<polygon points="328,489.1 330.2,493.3 325.8,493.3" fill="#d81a1a"/>
<polygon points="348.3,477.2 350.5,481.4 346.1,481.4" fill="#d81a1a"/>
<polygon points="372.2,457 374.4,461.2 370,461.2" fill="#d81a1a"/>
<polygon points="402.9,419.2 405.1,423.4 400.7,423.4" fill="#d81a1a"/>
<polygon points="442.5,398.3 444.7,402.5 440.3,402.5" fill="#d81a1a"/>
<polygon points="296.2,494.4 298.3,496.5 296.2,498.6 294.1,496.5" fill="#3f86e0"/>
<polygon points="310.9,493.2 313,495.3 310.9,497.4 308.8,495.3" fill="#3f86e0"/>
<polygon points="328.2,486.3 330.3,488.4 328.2,490.5 326.1,488.4" fill="#3f86e0"/>
<polygon points="348.8,467.5 350.9,469.6 348.8,471.7 346.7,469.6" fill="#3f86e0"/>
<polygon points="372.6,449.5 374.7,451.6 372.6,453.7 370.5,451.6" fill="#3f86e0"/>
<polygon points="402.9,416.9 405,419 402.9,421.1 400.8,419" fill="#3f86e0"/>
<polygon points="441.8,397.9 443.9,400 441.8,402.1 439.7,400" fill="#3f86e0"/>
<circle cx="294.3" cy="496.5" r="1.8" fill="#3ff03a"/>
<circle cx="305.5" cy="495.5" r="1.8" fill="#3ff03a"/>
<circle cx="320.5" cy="488" r="1.8" fill="#3ff03a"/>
<circle cx="337.6" cy="469.1" r="1.8" fill="#3ff03a"/>
<circle cx="359.5" cy="449.6" r="1.8" fill="#3ff03a"/>
<circle cx="386.4" cy="417.6" r="1.8" fill="#3ff03a"/>
<circle cx="423.8" cy="397.4" r="1.8" fill="#3ff03a"/>
<circle cx="322.3" cy="512.5" r="1.6" fill="#000"/>
<circle cx="353.5" cy="512.5" r="1.6" fill="#000"/>
<circle cx="437.9" cy="512.5" r="1.6" fill="#000"/>
<text x="322.7" y="509.3" font-size="6.8" text-anchor="middle" fill="#222"  stroke="#222" stroke-width="0.12">T3</text>
<text x="353.5" y="509.3" font-size="6.8" text-anchor="middle" fill="#222"  stroke="#222" stroke-width="0.12">T2</text>
<text x="438.2" y="509.3" font-size="6.8" text-anchor="middle" fill="#222"  stroke="#222" stroke-width="0.12">T1</text>
</svg></body></html>
